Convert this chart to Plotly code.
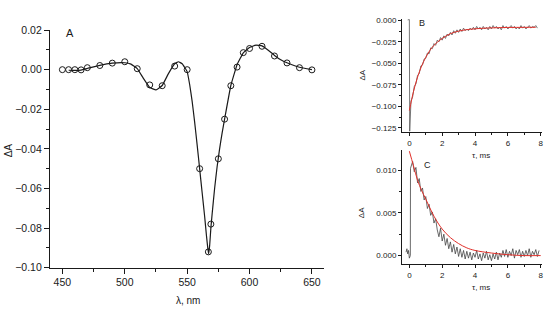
import plotly.graph_objects as go

# ---------------- Panel A: difference spectrum ----------------
wl_points = [450, 455, 460, 465, 470, 480, 490, 500, 510, 520, 530, 540, 550,
             560, 567, 569, 575, 580, 585, 590, 595, 600, 610, 620, 630, 640, 650]
dA_points = [0.0, 0.0, 0.0, -0.0001, 0.001, 0.0021, 0.0033, 0.004, 0.0005, -0.0077,
             -0.0081, 0.0018, 0.0, -0.050, -0.092, -0.078, -0.045, -0.025, -0.0081,
             0.0013, 0.0086, 0.0107, 0.0118, 0.0069, 0.0034, 0.001, -0.0001]

wl_curve = [455, 460, 465, 470, 480, 490, 500, 505, 510, 515, 520, 525, 530, 535,
            540, 543, 546, 550, 552, 554, 556, 558, 560, 562, 564, 565.5, 566.5, 567.2, 568,
            569, 570, 572, 574, 576, 578, 580, 585, 590, 595, 600, 605, 610, 615,
            620, 625, 630, 640, 650]
dA_curve = [-0.0003, -0.0004, -0.0002, 0.0006, 0.0022, 0.0033, 0.0035, 0.0028,
            0.0005, -0.0045, -0.0090, -0.0102, -0.0080, -0.0020, 0.0030, 0.0040,
            0.0030, -0.0010, -0.0075, -0.0160, -0.0265, -0.0380, -0.050, -0.062,
            -0.074, -0.084, -0.090, -0.093, -0.089, -0.080, -0.073, -0.060, -0.049,
            -0.040, -0.032, -0.025, -0.008, 0.0025, 0.0085, 0.0112, 0.0124, 0.0120,
            0.0098, 0.0072, 0.0050, 0.0035, 0.0012, 0.0]

# ---------------- Panel B: kinetics (bleaching recovery) ----------------
tB = [-0.1, 0.0, 0.02, 0.05,
      0.1, 0.2, 0.3, 0.4, 0.5, 0.6, 0.7, 0.8, 0.9, 1.0, 1.1, 1.2, 1.3, 1.4, 1.5,
      1.6, 1.7, 1.8, 1.9, 2.0, 2.1, 2.2, 2.3, 2.4, 2.5, 2.6, 2.7, 2.8, 2.9, 3.0,
      3.1, 3.2, 3.3, 3.4, 3.5, 3.6, 3.7, 3.8, 3.9, 4.0, 4.1, 4.2, 4.3, 4.4, 4.5,
      4.6, 4.7, 4.8, 4.9, 5.0, 5.1, 5.2, 5.3, 5.4, 5.5, 5.6, 5.7, 5.8, 5.9, 6.0,
      6.1, 6.2, 6.3, 6.4, 6.5, 6.6, 6.7, 6.8, 6.9, 7.0, 7.1, 7.2, 7.3, 7.4, 7.5,
      7.6, 7.7, 7.8]
dAB = [0.0005, 0.001, -0.129, -0.110,
       -0.094, -0.089, -0.077, -0.074, -0.064, -0.062, -0.053, -0.052, -0.045,
       -0.044, -0.038, -0.039, -0.032, -0.033, -0.027, -0.029, -0.023, -0.025,
       -0.020, -0.023, -0.018, -0.021, -0.016, -0.018, -0.014, -0.017, -0.012,
       -0.015, -0.011, -0.014, -0.010, -0.013, -0.009, -0.012, -0.010, -0.012,
       -0.009, -0.011, -0.008, -0.011, -0.007, -0.010, -0.008, -0.011, -0.007,
       -0.010, -0.008, -0.011, -0.007, -0.010, -0.006, -0.009, -0.007, -0.010,
       -0.008, -0.011, -0.006, -0.009, -0.007, -0.010, -0.008, -0.006, -0.009,
       -0.007, -0.010, -0.008, -0.010, -0.006, -0.009, -0.007, -0.010, -0.008,
       -0.006, -0.009, -0.007, -0.008, -0.006, -0.009]
tB_fit = [0.0, 0.25, 0.5, 0.75, 1.0, 1.25, 1.5, 2.0, 2.5, 3.0, 3.5, 4.0, 5.0, 6.0,
          7.0, 7.7]
dAB_fit = [-0.105, -0.083, -0.066, -0.053, -0.043, -0.035, -0.029, -0.021,
           -0.0155, -0.0125, -0.0108, -0.0098, -0.0087, -0.0082, -0.0081, -0.008]

# ---------------- Panel C: kinetics (transient decay) ----------------
tC = [-0.2, -0.15, -0.1, -0.05, 0.0, 0.06, 0.07,
      0.2, 0.3, 0.4, 0.5, 0.6, 0.7, 0.8, 0.9, 1.0, 1.1, 1.2, 1.3, 1.4, 1.5, 1.6,
      1.7, 1.8, 1.9, 2.0, 2.1, 2.2, 2.3, 2.4, 2.5, 2.6, 2.7, 2.8, 2.9, 3.0, 3.1,
      3.2, 3.3, 3.4, 3.5, 3.6, 3.7, 3.8, 3.9, 4.0, 4.1, 4.2, 4.3, 4.4, 4.5, 4.6,
      4.7, 4.8, 4.9, 5.0, 5.1, 5.2, 5.3, 5.4, 5.5, 5.6, 5.7, 5.8, 5.9, 6.0, 6.1,
      6.2, 6.3, 6.4, 6.5, 6.6, 6.7, 6.8, 6.9, 7.0, 7.1, 7.2, 7.3, 7.4, 7.5, 7.6,
      7.7, 7.8, 7.9]
dAC = [0.0004, 0.0008, 0.0002, 0.0006, -0.0003, 0.0, 0.0102,
       0.0110, 0.0098, 0.0103, 0.0085, 0.0090, 0.0075, 0.0079, 0.0065, 0.0069,
       0.0055, 0.0060, 0.0047, 0.0051, 0.0038, 0.0043, 0.0030, 0.0022, 0.0032,
       0.0017, 0.0025, 0.0012, 0.0020, 0.0008, 0.0016, 0.0004, 0.0013, 0.0002,
       0.0010, -0.0001, 0.0008, -0.0002, 0.0006, -0.0004, 0.0005, -0.0003,
       0.0004, -0.0005, 0.0003, -0.0002, 0.0006, -0.0004, 0.0002, -0.0006,
       0.0003, -0.0003, 0.0005, -0.0005, 0.0001, -0.0006, 0.0002, -0.0004,
       0.0004, -0.0005, 0.0003, -0.0002, 0.0006, -0.0001, 0.0007, -0.0002,
       0.0005, 0.0000, 0.0008, -0.0003, 0.0006, 0.0001, 0.0007, -0.0002, 0.0005,
       -0.0001, 0.0006, 0.0000, 0.0008, -0.0002, 0.0005, 0.0001, 0.0007,
       -0.0001, 0.0006]
tC_fit = [0.0, 0.25, 0.5, 0.75, 1.0, 1.5, 2.0, 2.5, 3.0, 3.5, 4.0, 5.0, 6.0, 7.0, 8.0]
dAC_fit = [0.0122, 0.0105, 0.0088, 0.0076, 0.0066, 0.0046, 0.0031, 0.0021,
           0.0014, 0.0009, 0.0006, 0.0003, 0.0001, 0.0, 0.0]

FONT = "Liberation Sans, Arial, sans-serif"
INK = "#1a1a1a"
W, H = 550, 317


def px(x):
    return x / W


def py(y):
    return 1 - y / H


fig = go.Figure()

# Panel A
fig.add_trace(go.Scatter(x=wl_curve, y=dA_curve, mode="lines",
                         line=dict(color=INK, width=1.2, shape="spline", smoothing=0.3),
                         xaxis="x", yaxis="y", hoverinfo="skip"))
fig.add_trace(go.Scatter(x=wl_points, y=dA_points, mode="markers",
                         marker=dict(symbol="circle-open", size=6, color=INK, line=dict(width=1)),
                         xaxis="x", yaxis="y"))
# Panel B
fig.add_trace(go.Scatter(x=tB, y=dAB, mode="lines", line=dict(color="#555555", width=0.8),
                         xaxis="x2", yaxis="y2"))
fig.add_trace(go.Scatter(x=tB_fit, y=dAB_fit, mode="lines", line=dict(color="#e0302a", width=1, shape="spline"),
                         xaxis="x2", yaxis="y2"))
# Panel C
fig.add_trace(go.Scatter(x=tC, y=dAC, mode="lines", line=dict(color="#444444", width=0.8),
                         xaxis="x3", yaxis="y3"))
fig.add_trace(go.Scatter(x=tC_fit, y=dAC_fit, mode="lines", line=dict(color="#e0302a", width=1, shape="spline"),
                         xaxis="x3", yaxis="y3"))


def ax(domain, rng, dtick, minor_dtick, size, fmt=None, anchor=None, ticklen=5, tick0=None):
    d = dict(domain=domain, range=rng, dtick=dtick, showline=True, linecolor=INK, linewidth=1,
             ticks="outside", ticklen=ticklen, tickwidth=1, tickcolor=INK, showgrid=False,
             zeroline=False, mirror=False, tickfont=dict(family=FONT, size=size, color=INK),
             minor=dict(dtick=minor_dtick, ticks="outside", ticklen=max(2, ticklen - 2), tickcolor=INK, showgrid=False),
             anchor=anchor, fixedrange=True)
    if fmt:
        d["tickformat"] = fmt
    if tick0 is not None:
        d["tick0"] = tick0
        d["minor"]["tick0"] = tick0
    return d


fig.update_layout(
    width=W, height=H, margin=dict(l=0, r=0, t=0, b=0),
    paper_bgcolor="white", plot_bgcolor="white", showlegend=False,
    xaxis=ax([px(50), px(325)], [440, 660], 50, 25, 10.5, anchor="y", tick0=450),
    yaxis=ax([py(272), py(25)], [-0.1, 0.02], 0.02, 0.01, 10.5, fmt=".2f", anchor="x"),
    xaxis2=ax([px(402.7), px(543)], [-0.45, 8.08], 2, 1, 8, anchor="y2", ticklen=3),
    yaxis2=ax([py(131), py(13)], [-0.13, 0.0022], 0.025, 0.0125, 8, fmt=".3f", anchor="x2", ticklen=3),
    xaxis3=ax([px(402.7), px(543)], [-0.45, 8.08], 2, 1, 8, anchor="y3", ticklen=3),
    yaxis3=ax([py(268.3), py(150)], [-0.001, 0.0123], 0.005, 0.0025, 8, fmt=".3f", anchor="x3", ticklen=3),
)

ann = [
    ("A", 70, 28, 11, 0),
    ("B", 423, 18, 9, 0),
    ("C", 428, 165, 9, 0),
    ("ΔA", 8, 150, 10, -90),
    ("λ, nm", 188, 306, 10, 0),
    ("ΔA", 363, 72, 8, -90),
    ("τ, ms", 482, 155, 8, 0),
    ("ΔA", 363, 215, 8, -90),
    ("τ, ms", 482, 293, 8, 0),
]
for text, x, y, size, ang in ann:
    fig.add_annotation(text=text, x=px(x), y=py(y), xref="paper", yref="paper",
                       showarrow=False, textangle=ang, xanchor="center", yanchor="middle",
                       font=dict(family=FONT, size=size, color=INK))

fig.write_html("out.html", config={"displayModeBar": False},
               post_script="document.body.style.margin='0';")
